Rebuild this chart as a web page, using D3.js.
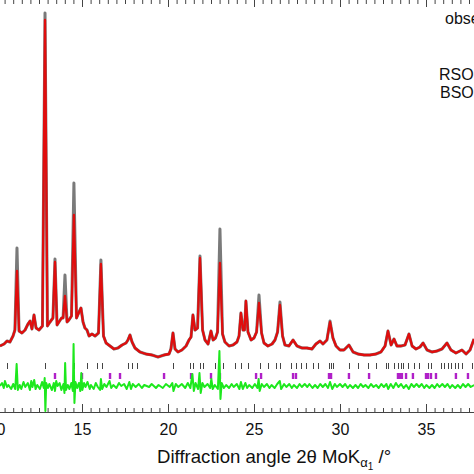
<!DOCTYPE html>
<html>
<head>
<meta charset="utf-8">
<script src="https://cdn.jsdelivr.net/npm/d3@7"></script>
<style>
    html, body { margin: 0; padding: 0; background: #fff; }
    svg { display: block; font-family: "Liberation Sans", Arial, sans-serif; }
</style>
</head>
<body>
<div id="rietveld"></div>
<script>
"use strict";

// profile vertices: [2theta, observed, calculated] (arbitrary units)
const profile = [
    [10.23, 41, 41], [10.47, 43, 43], [10.64, 46, 46], [10.81, 45, 45],
    [10.99, 51, 51], [11.10, 57, 57], [11.22, 139, 116], [11.34, 56, 56],
    [11.51, 54, 54], [11.69, 57, 57], [11.86, 63, 63], [11.98, 66, 66],
    [12.09, 58, 58], [12.21, 72, 72], [12.33, 59, 59], [12.50, 57, 57],
    [12.70, 61, 61], [12.85, 374, 367], [12.99, 61, 61], [13.14, 65, 65],
    [13.31, 69, 69], [13.43, 128, 125], [13.55, 62, 62], [13.66, 65, 65],
    [13.81, 69, 69], [13.90, 69, 69], [14.01, 112, 91], [14.13, 65, 65],
    [14.24, 67, 67], [14.39, 71, 71], [14.53, 204, 172], [14.68, 69, 69],
    [14.83, 75, 75], [14.94, 79, 79], [15.06, 65, 65], [15.17, 59, 59],
    [15.29, 57, 57], [15.41, 51, 51], [15.58, 53, 53], [15.76, 51, 51],
    [15.96, 54, 54], [16.10, 127, 123], [16.25, 51, 51], [16.40, 44, 44],
    [16.63, 41, 41], [16.86, 38, 38], [17.09, 39, 39], [17.33, 42, 42],
    [17.56, 44, 44], [17.67, 47, 47], [17.79, 52, 52], [17.91, 45, 45],
    [18.08, 39, 39], [18.37, 35, 35], [18.72, 33, 33], [19.07, 32, 32],
    [19.42, 30, 30], [19.77, 32, 32], [20.06, 33, 33], [20.17, 38, 38],
    [20.29, 54, 54], [20.41, 38, 38], [20.58, 35, 35], [20.81, 37, 37],
    [21.05, 41, 41], [21.22, 47, 47], [21.34, 50, 50], [21.45, 72, 72],
    [21.57, 57, 57], [21.72, 59, 59], [21.86, 131, 129], [22.01, 57, 57],
    [22.15, 47, 47], [22.33, 43, 43], [22.50, 56, 56], [22.62, 47, 47],
    [22.76, 49, 49], [22.88, 55, 55], [23.02, 158, 124], [23.17, 53, 53],
    [23.31, 45, 45], [23.55, 41, 41], [23.78, 42, 42], [24.01, 45, 45],
    [24.13, 51, 51], [24.24, 74, 74], [24.36, 57, 57], [24.45, 57, 57],
    [24.53, 86, 86], [24.65, 55, 55], [24.83, 47, 47], [25.00, 49, 49],
    [25.15, 55, 55], [25.29, 92, 84], [25.44, 54, 54], [25.58, 44, 44],
    [25.81, 41, 41], [26.05, 43, 43], [26.22, 47, 47], [26.37, 55, 55],
    [26.51, 85, 82], [26.66, 51, 51], [26.80, 42, 42], [27.03, 41, 41],
    [27.27, 47, 47], [27.50, 41, 41], [27.79, 39, 39], [28.08, 39, 39],
    [28.37, 38, 38], [28.60, 43, 43], [28.84, 46, 46], [29.01, 43, 43],
    [29.24, 47, 47], [29.42, 66, 65], [29.59, 49, 49], [29.77, 41, 41],
    [30.00, 37, 37], [30.23, 37, 37], [30.52, 42, 42], [30.76, 35, 35],
    [31.05, 33, 33], [31.40, 32, 32], [31.74, 32, 32], [32.09, 33, 33],
    [32.38, 35, 35], [32.62, 41, 41], [32.79, 56, 56], [32.97, 42, 42],
    [33.14, 48, 48], [33.31, 41, 41], [33.55, 41, 41], [33.78, 42, 42],
    [34.01, 53, 53], [34.19, 41, 41], [34.42, 38, 38], [34.65, 40, 40],
    [34.83, 44, 44], [35.06, 37, 37], [35.35, 35, 35], [35.64, 36, 36],
    [35.93, 38, 38], [36.22, 44, 44], [36.45, 37, 37], [36.74, 34, 34],
    [37.09, 37, 37], [37.33, 33, 33], [37.56, 37, 37], [37.79, 48, 48]
];

// observed - calculated: [2theta, difference]
const difference = [
    [10.23, 0], [10.35, 3], [10.45, -2], [10.52, 5], [10.64, -1], [10.72, 1],
    [10.88, -3], [11.00, 2], [11.12, -3], [11.20, 22], [11.27, -4], [11.38, 1],
    [11.47, -3], [11.60, 4], [11.70, -1], [11.85, 3], [11.97, -4], [12.05, 5],
    [12.12, -1], [12.22, 6], [12.30, -3], [12.40, 1], [12.55, -3], [12.68, 4],
    [12.78, -2], [12.83, 8], [12.87, -25], [12.92, 3], [13.02, -2], [13.10, 2],
    [13.25, -4], [13.36, 3], [13.43, -5], [13.50, 5], [13.58, 0], [13.70, 3],
    [13.80, -4], [13.92, 2], [13.98, -7], [14.02, 23], [14.07, -4], [14.17, 1],
    [14.27, -3], [14.38, 3], [14.47, -5], [14.51, 42], [14.56, -17], [14.62, 4],
    [14.72, -2], [14.82, 3], [14.90, -5], [14.96, 13], [15.02, -4], [15.12, 3],
    [15.20, -1], [15.32, 4], [15.45, -3], [15.52, 1], [15.68, -3], [15.80, 3],
    [15.92, -1], [16.05, -4], [16.10, 7], [16.17, -3], [16.30, 2], [16.42, -1],
    [16.60, 5], [16.70, -2], [16.82, 1], [17.00, -2], [17.15, 3], [17.28, 0],
    [17.45, 2], [17.60, -3], [17.75, 4], [17.85, -3], [17.95, 2], [18.12, -1],
    [18.30, 2], [18.48, -2], [18.62, 1], [18.90, -1], [19.05, 2], [19.30, -2],
    [19.45, 1], [19.70, -2], [19.88, 2], [20.10, -1], [20.25, 3], [20.32, -5],
    [20.45, 2], [20.60, -1], [20.80, 2], [21.00, -2], [21.15, 3], [21.30, -2],
    [21.42, 12], [21.50, -5], [21.60, 3], [21.75, -3], [21.83, 13], [21.90, -7],
    [22.00, 3], [22.12, -1], [22.30, 2], [22.45, -2], [22.52, 7], [22.60, -3],
    [22.72, 1], [22.90, -3], [22.99, 35], [23.05, -13], [23.12, 3], [23.25, -2],
    [23.38, 1], [23.55, -2], [23.70, 2], [23.82, -1], [24.00, 2], [24.15, -3],
    [24.24, 4], [24.35, -3], [24.50, 3], [24.60, -2], [24.72, 1], [24.90, -2],
    [25.05, 2], [25.20, -2], [25.27, 7], [25.33, -5], [25.45, 2], [25.58, -1],
    [25.75, 2], [25.90, -2], [26.02, 1], [26.20, -2], [26.35, 2], [26.50, 5],
    [26.58, -3], [26.75, 2], [26.88, -1], [27.05, 2], [27.20, -2], [27.32, 1],
    [27.50, -2], [27.65, 2], [27.78, -1], [27.95, 2], [28.10, -1], [28.22, 2],
    [28.40, -2], [28.55, 1], [28.70, -2], [28.85, 2], [29.00, -1], [29.15, 2],
    [29.30, -2], [29.42, 4], [29.55, -3], [29.70, 2], [29.82, -1], [30.00, 2],
    [30.15, -1], [30.30, 2], [30.45, -2], [30.58, 1], [30.75, -2], [30.90, 1],
    [31.05, -2], [31.20, 2], [31.35, -1], [31.48, 1], [31.65, -2], [31.80, 2],
    [31.95, -1], [32.10, 1], [32.25, -2], [32.40, 2], [32.55, -1], [32.70, 2],
    [32.80, -3], [32.95, 2], [33.10, -2], [33.25, 3], [33.40, -1], [33.55, 2],
    [33.70, -2], [33.85, 1], [34.00, -3], [34.15, 2], [34.30, -1], [34.45, 2],
    [34.60, -1], [34.75, 2], [34.90, -2], [35.02, 1], [35.20, -2], [35.35, 1],
    [35.50, -2], [35.65, 2], [35.78, -1], [35.95, 2], [36.10, -1], [36.25, 2],
    [36.40, -2], [36.52, 1], [36.70, -2], [36.85, 1], [37.00, -2], [37.15, 2],
    [37.30, -1], [37.45, 2], [37.60, -1], [37.80, 1]
];

// reflection positions (2theta)
const phaseA = [
    10.64, 11.16, 12.85, 14.01, 14.53, 15.29, 15.87, 16.16, 17.67, 17.91,
    18.20, 20.29, 21.28, 21.45, 21.86, 22.03, 22.73, 22.91, 23.20, 23.90,
    24.24, 24.65, 25.35, 25.81, 26.28, 26.51, 27.15, 27.44, 27.73, 28.02,
    28.43, 28.72, 29.36, 29.48, 29.59, 30.52, 31.05, 31.63, 32.09, 32.67,
    32.79, 33.14, 33.37, 33.55, 33.66, 33.95, 34.30, 34.59, 35.12, 35.29,
    35.87, 36.05, 36.28, 36.45, 36.69, 36.86, 37.09, 37.67
];
const phaseB = [
    13.43, 15.00, 16.63, 17.21, 19.77, 21.34, 22.50, 23.02, 25.12, 25.41,
    27.27, 27.44, 29.36, 29.48, 30.52, 31.69, 33.37, 33.49, 33.60, 33.84,
    34.24, 35.00, 35.12, 35.29, 35.58, 36.74, 37.44
];

const majorTicks = [10, 15, 20, 25, 30, 35];
const minorTicks = d3.range(10.5, 38, 0.5).filter(v => v % 5 !== 0);
const legendLabels = ["observed", "RSO", "BSO"];
const xTitle = "Diffraction angle 2θ MoK";

const width = 474;
const height = 474;
const axisY = 412;
const diffBase = 1;

const xScale = d3.scaleLinear()
                 .domain([10, 40])
                 .range([-4, -4 + 30 * 17.2]);
const yScale = d3.scaleLinear()
                 .domain([0, 374])
                 .range([387, 13]);

const svg = d3.select("#rietveld").append("svg")
              .attr("width", width)
              .attr("height", height);

// curves
const obsLine = d3.line()
                  .x(d => xScale(d[0]))
                  .y(d => yScale(d[1]));
const calcLine = d3.line()
                   .x(d => xScale(d[0]))
                   .y(d => yScale(d[2]));
const diffLine = d3.line()
                   .x(d => xScale(d[0]))
                   .y(d => yScale(d[1] + diffBase));

svg.append("path")
   .datum(profile)
   .attr("d", obsLine)
   .attr("fill", "none")
   .attr("stroke", "#7a7a7a")
   .attr("stroke-width", 3)
   .attr("stroke-linejoin", "round");
svg.append("path")
   .datum(profile)
   .attr("d", calcLine)
   .attr("fill", "none")
   .attr("stroke", "#e00d0d")
   .attr("stroke-width", 2.3)
   .attr("stroke-linejoin", "round");

// reflection markers
svg.append("g")
   .selectAll("line")
   .data(phaseA)
   .join("line")
   .attr("x1", d => Math.round(xScale(d)) + 0.5)
   .attr("x2", d => Math.round(xScale(d)) + 0.5)
   .attr("y1", 363)
   .attr("y2", 369)
   .attr("stroke", "#444")
   .attr("stroke-width", 1);
svg.append("g")
   .selectAll("line")
   .data(phaseB)
   .join("line")
   .attr("x1", d => xScale(d))
   .attr("x2", d => xScale(d))
   .attr("y1", 373)
   .attr("y2", 379)
   .attr("stroke", "#b020c8")
   .attr("stroke-width", 2.4);

svg.append("path")
   .datum(difference)
   .attr("d", diffLine)
   .attr("fill", "none")
   .attr("stroke", "#1de81d")
   .attr("stroke-width", 2)
   .attr("stroke-linejoin", "round");

// axes
const styleAxis = g => {
    g.selectAll("line").attr("stroke", "#444");
    g.selectAll("path").attr("stroke", "#444");
    g.selectAll("text")
     .attr("fill", "#111")
     .style("font-family", "'Liberation Sans', Arial, sans-serif")
     .style("font-size", "16px");
};

svg.append("g")
   .attr("transform", `translate(0, ${axisY})`)
   .call(d3.axisBottom(xScale)
           .tickValues(majorTicks)
           .tickSize(-8)
           .tickPadding(12)
           .tickSizeOuter(0)
           .tickFormat(d3.format("d")))
   .call(styleAxis);
svg.append("g")
   .attr("transform", `translate(0, ${axisY})`)
   .call(d3.axisBottom(xScale)
           .tickValues(minorTicks)
           .tickSize(-4)
           .tickSizeOuter(0)
           .tickFormat(""))
   .call(styleAxis)
   .select(".domain").remove();

svg.append("g")
   .attr("transform", "translate(0, -1)")
   .call(d3.axisTop(xScale)
           .tickValues(majorTicks)
           .tickSize(-8)
           .tickFormat(""))
   .call(styleAxis)
   .select(".domain").remove();
svg.append("g")
   .attr("transform", "translate(0, -1)")
   .call(d3.axisTop(xScale)
           .tickValues(minorTicks)
           .tickSize(-5)
           .tickFormat(""))
   .call(styleAxis)
   .select(".domain").remove();

// axis title
const title = svg.append("text")
                 .attr("x", 157)
                 .attr("y", 463)
                 .attr("fill", "#111")
                 .style("font-size", "18.6px");
title.append("tspan").text(xTitle);
title.append("tspan")
     .attr("dy", 4)
     .style("font-size", "13px")
     .text("α");
title.append("tspan")
     .attr("dy", 3)
     .style("font-size", "10px")
     .text("1");
title.append("tspan")
     .attr("dy", -7)
     .text(" /°");

// legend (cut by the right edge)
svg.append("g")
   .selectAll("text")
   .data(legendLabels)
   .join("text")
   .attr("x", (d, i) => [445, 439, 440][i])
   .attr("y", (d, i) => [24, 80, 98][i])
   .attr("fill", "#111")
   .style("font-size", "16px")
   .text(d => d);
</script>
</body>
</html>
